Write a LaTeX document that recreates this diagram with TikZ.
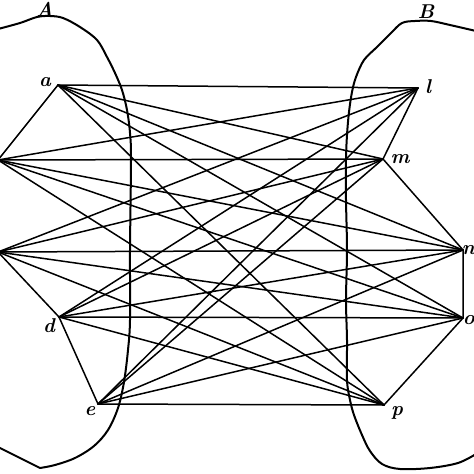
\documentclass[tikz,border=0pt]{standalone}
\usepackage{fontspec}
\begin{document}
\begin{tikzpicture}[x=1pt,y=-1pt,
  edge/.style={line width=1.5pt, line cap=round},
  outline/.style={line width=2pt, line join=round},
  lbl/.style={font=\fontsize{20}{20}\selectfont\bfseries\itshape, inner sep=0pt}]
\useasboundingbox (0,0) rectangle (474,474);
% vertices
\coordinate (a) at (58,85);
\coordinate (b) at (-2,160);
\coordinate (c) at (-2,252);
\coordinate (d) at (59,317);
\coordinate (e) at (98,404);
\coordinate (l) at (418,88);
\coordinate (m) at (383,159);
\coordinate (n) at (463,250);
\coordinate (o) at (463,318);
\coordinate (p) at (384,405);
% outlines
\draw[outline] plot[smooth, tension=0.55] coordinates {(-2,29) (20,23) (37,17) (50,16) (63,18) (80,27) (97,40) (107,57) (115,73) (122,90) (127,110) (130,133) (131,160) (130,250) (130,320) (128,350) (124,382) (118,408) (108,430) (94,446) (75,458) (55,465) (40,468)} -- (-2,447);
\draw[outline] plot[smooth, tension=0.55] coordinates {(476,31) (450,25) (431,21) (415,21) (402,23) (391,33) (377,47) (364,60) (356,77) (352,92) (349,112) (347,135) (346,160) (346,200) (347,250) (346,300) (347,340) (347,380) (350,400) (354,415) (362,435) (370,451) (382,464) (400,469) (430,468) (458,463) (476,454)};
% complete bipartite connections
\foreach \u in {a,b,c,d,e}
  \foreach \v in {l,m,n,o,p}
    \draw[edge] (\u) -- (\v);
% chains
\draw[edge] (b) -- (a);
\draw[edge] (c) -- (d) -- (e);
\draw[edge] (l) -- (m) -- (n) -- (o) -- (p);
% labels
\node[lbl] (lA) at (45,9) {A};
\node[lbl] (lB) at (426,12) {B};
\node[lbl] (la) at (45,82) {a};
\node[lbl] (ll) at (428,87) {l};
\node[lbl] (lm) at (400,159) {m};
\node[lbl, anchor=east] (ln) at (475,250) {n};
\node[lbl, anchor=east] (lo) at (475,320) {o};
\node[lbl] (ld) at (49,326) {d};
\node[lbl] (le) at (90,411) {e};
\node[lbl] (lp) at (397,413) {p};
\end{tikzpicture}
\end{document}
